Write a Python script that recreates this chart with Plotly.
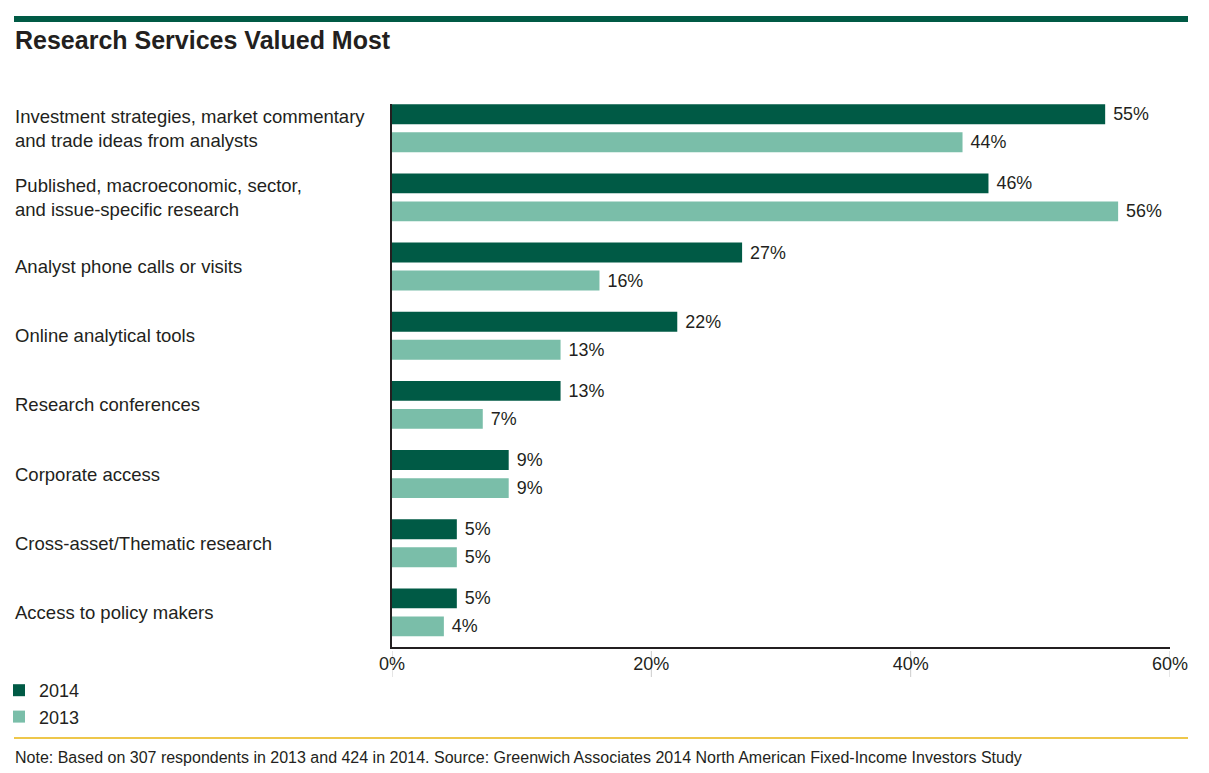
import plotly.graph_objects as go

categories = [
    "Investment strategies, market commentary<br>and trade ideas from analysts",
    "Published, macroeconomic, sector,<br>and issue-specific research",
    "Analyst phone calls or visits",
    "Online analytical tools",
    "Research conferences",
    "Corporate access",
    "Cross-asset/Thematic research",
    "Access to policy makers",
]
values_2014 = [55, 46, 27, 22, 13, 9, 5, 5]
values_2013 = [44, 56, 16, 13, 7, 9, 5, 4]
tick_vals = [0, 20, 40, 60]
tick_text = ["0%", "20%", "40%", "60%"]

DARK = "#005A45"
LIGHT = "#7ABEA9"
TXT = "#231F20"
FONT = "Liberation Sans"

OFF = 8  # page body margin
W, H = 1209 - OFF, 773 - OFF
L, R, T, B = 392 - OFF, 39, 104 - OFF, 126
PW, PH = W - L - R, H - T - B


def px(x):
    return (x - OFF - L) / PW


def py(y):
    return (H - B - (y - OFF)) / PH


idx = list(range(len(categories)))

fig = go.Figure()
fig.add_trace(go.Bar(
    y=idx, x=values_2014, orientation="h", name="2014",
    marker=dict(color=DARK, line=dict(width=0)),
    texttemplate=" %{x}%", textposition="outside", cliponaxis=False,
    textfont=dict(family=FONT, size=18, color=TXT),
))
fig.add_trace(go.Bar(
    y=idx, x=values_2013, orientation="h", name="2013",
    marker=dict(color=LIGHT, line=dict(width=0)),
    texttemplate=" %{x}%", textposition="outside", cliponaxis=False,
    textfont=dict(family=FONT, size=18, color=TXT),
))

annotations = []
for i, c in enumerate(categories):
    annotations.append(dict(
        x=px(13), xref="paper", y=i, yref="y", text=c, showarrow=False,
        xanchor="left", yanchor="middle", align="left",
        font=dict(family=FONT, size=18.5, color=TXT),
    ))
annotations.append(dict(
    x=px(13), xref="paper", y=py(40), yref="paper",
    text="<b>Research Services Valued Most</b>", showarrow=False,
    xanchor="left", yanchor="middle",
    font=dict(family=FONT, size=25, color=TXT),
))
annotations.append(dict(
    x=px(13), xref="paper", y=py(757), yref="paper",
    text="Note: Based on 307 respondents in 2013 and 424 in 2014. Source: Greenwich Associates 2014 North American Fixed-Income Investors Study",
    showarrow=False, xanchor="left", yanchor="middle",
    font=dict(family=FONT, size=16, color=TXT),
))

shapes = [
    dict(type="line", xref="paper", yref="paper", x0=px(14), x1=px(1188),
         y0=py(19), y1=py(19), line=dict(color=DARK, width=6)),
    dict(type="line", xref="paper", yref="paper", x0=px(14), x1=px(1188),
         y0=py(738), y1=py(738), line=dict(color="#E8B40F", width=1.5)),
]
for tv in tick_vals:
    shapes.append(dict(type="line", xref="x", yref="paper", x0=tv, x1=tv,
                       y0=py(651), y1=py(677), line=dict(color="#CCCCCC", width=1),
                       layer="below"))

fig.update_layout(
    width=W, height=H,
    margin=dict(l=L, r=R, t=T, b=B, autoexpand=False),
    paper_bgcolor="white", plot_bgcolor="white",
    barmode="group", bargap=0.19, bargroupgap=0.29,
    showlegend=True,
    legend=dict(x=px(-1), y=py(672), xanchor="left", yanchor="top",
                font=dict(family=FONT, size=18, color=TXT),
                traceorder="normal", itemclick=False, tracegroupgap=0,
                bgcolor="rgba(0,0,0,0)"),
    annotations=annotations,
    shapes=shapes,
    font=dict(family=FONT, color=TXT),
)
fig.update_xaxes(range=[0, 60], tickvals=tick_vals, ticktext=tick_text,
                 showgrid=False, zeroline=False, showline=True,
                 linecolor="#231F20", linewidth=1.5, ticks="",
                 tickfont=dict(family=FONT, size=18, color=TXT))
fig.update_yaxes(range=[7.5, -0.35], showticklabels=False, showgrid=False,
                 zeroline=False, showline=True, linecolor="#231F20",
                 linewidth=1.5, ticks="")

fig.write_html("out.html")
